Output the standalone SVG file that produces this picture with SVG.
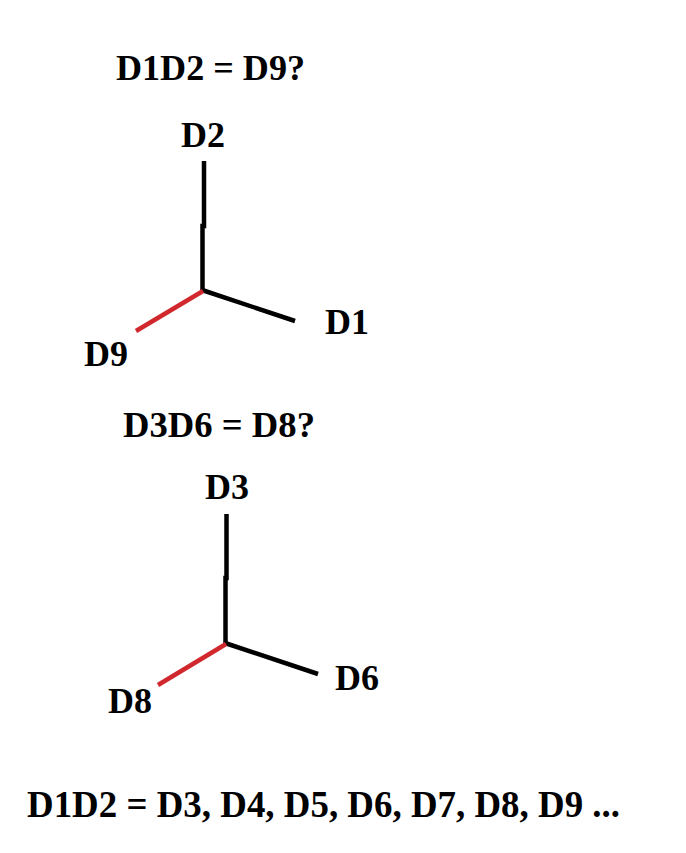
<svg xmlns="http://www.w3.org/2000/svg" width="686" height="853" viewBox="0 0 686 853">
<style>
text{font-family:"Liberation Serif","Times New Roman",serif;font-weight:bold;font-size:36px;fill:#000}
.blk{stroke:#000;stroke-width:4.5;fill:none;stroke-linecap:butt}
.red{stroke:#d1282e;stroke-width:4.5;fill:none;stroke-linecap:butt}
</style>
<rect width="686" height="853" fill="#fff"/>
<g id="title1"><text x="116" y="80" textLength="189" lengthAdjust="spacingAndGlyphs">D1D2 = D9?</text></g>
<g id="connectors">
<polyline class="blk" points="204,161 204,226 202.5,226 202.5,291"/>
<line class="blk" x1="202" y1="290" x2="295" y2="321"/>
<line class="red" x1="203" y1="291" x2="136" y2="331"/>
<polyline class="blk" points="226.5,514 226.5,578 225.5,578 225.5,644"/>
<line class="blk" x1="225" y1="643" x2="318" y2="674"/>
<line class="red" x1="226" y1="644" x2="158" y2="685"/>
</g>
<g id="D2"><text x="181" y="147">D2</text></g>
<g id="D1"><text x="325" y="334">D1</text></g>
<g id="D9"><text x="84" y="366">D9</text></g>
<g id="title2"><text x="123" y="437" textLength="192" lengthAdjust="spacingAndGlyphs">D3D6 = D8?</text></g>
<g id="D3"><text x="205" y="499">D3</text></g>
<g id="D6"><text x="335" y="690">D6</text></g>
<g id="D8"><text x="108" y="713">D8</text></g>
<g id="summary"><text x="27" y="817" textLength="593" lengthAdjust="spacingAndGlyphs" style="font-size:37px">D1D2 = D3, D4, D5, D6, D7, D8, D9 ...</text></g>
</svg>
